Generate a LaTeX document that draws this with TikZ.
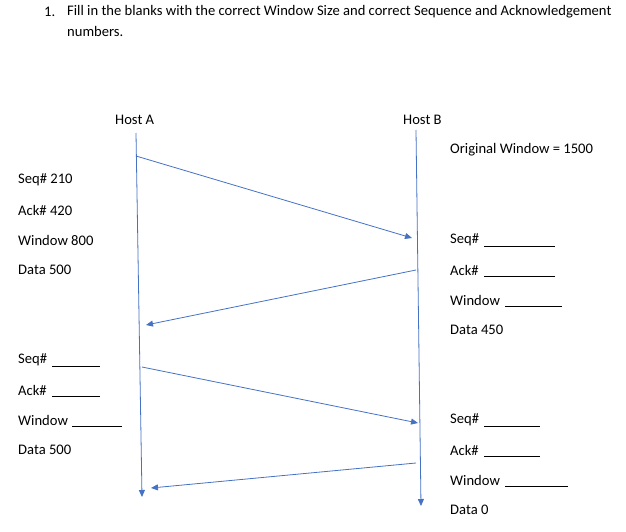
\documentclass[tikz,border=0pt]{standalone}
\usepackage{fontspec}
\setmainfont{Carlito}
\usetikzlibrary{arrows.meta}
\definecolor{ablue}{RGB}{68,114,196}
\begin{document}
\begin{tikzpicture}[x=1pt,y=-1pt,
  txt/.style={anchor=west,inner sep=0pt,font=\fontsize{14.6}{17}\selectfont},
  msg/.style={draw=ablue,line width=0.8pt,-{Triangle[length=7pt,width=6pt]}},
  blank/.style={line width=0.6pt}]
\useasboundingbox (0,0) rectangle (626,532);
\node[txt] (n1) at (44,12) {1.};
\node[txt] (t1) at (67,12) {Fill in the blanks with the correct Window Size and correct Sequence and Acknowledgement};
\node[txt] (t2) at (67,31) {numbers.};
\node[txt] (ha) at (115,120) {Host A};
\node[txt] (hb) at (403,120) {Host B};
\coordinate (a0) at (136,133); \coordinate (a1) at (142,497);
\coordinate (b0) at (416,130); \coordinate (b1) at (421,506);
\draw[msg] (a0) -- (a1);
\draw[msg] (b0) -- (b1);
\coordinate (p1) at (136,156); \coordinate (q1) at (412,238);
\coordinate (p2) at (416,270); \coordinate (q2) at (146,325);
\coordinate (p3) at (142,367); \coordinate (q3) at (418,423);
\coordinate (p4) at (416,463); \coordinate (q4) at (151,488);
\draw[msg] (p1) -- (q1);
\draw[msg] (p2) -- (q2);
\draw[msg] (p3) -- (q3);
\draw[msg] (p4) -- (q4);
% left
\node[txt] (l1) at (18,180) {Seq\# 210};
\node[txt] (l2) at (18,210) {Ack\# 420};
\node[txt] (l3) at (18,240) {Window 800};
\node[txt] (l4) at (18,270) {Data 500};
\node[txt] (l5) at (18,360) {Seq\#};
\node[txt] (l6) at (18,390) {Ack\#};
\node[txt] (l7) at (18,420) {Window};
\node[txt] (l8) at (18,450) {Data 500};
\draw[blank] (52,366) -- (100,366);
\draw[blank] (52,396) -- (100,396);
\draw[blank] (72,426) -- (122,426);
% right
\node[txt] (r0) at (450,150) {Original Window = 1500};
\node[txt] (r1) at (450,240) {Seq\#};
\node[txt] (r2) at (450,270) {Ack\#};
\node[txt] (r3) at (450,300) {Window};
\node[txt] (r4) at (450,330) {Data 450};
\node[txt] (r5) at (450,420) {Seq\#};
\node[txt] (r6) at (450,450) {Ack\#};
\node[txt] (r7) at (450,480) {Window};
\node[txt] (r8) at (450,510) {Data 0};
\draw[blank] (484,246) -- (555,246);
\draw[blank] (484,276) -- (555,276);
\draw[blank] (505,306) -- (562,306);
\draw[blank] (484,426) -- (540,426);
\draw[blank] (484,456) -- (540,456);
\draw[blank] (505,486) -- (568,486);
\end{tikzpicture}
\end{document}
